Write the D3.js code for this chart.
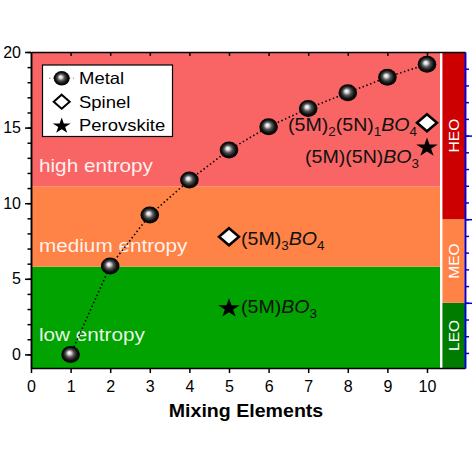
<!DOCTYPE html>
<html>
<head>
<meta charset="utf-8">
<script src="https://cdn.jsdelivr.net/npm/d3@7"></script>
<style>
  body { margin: 0; background: #fff; }
  text { font-family: "Liberation Sans", Arial, Helvetica, sans-serif; }
</style>
</head>
<body>
<script>
'use strict';

const W = 474;
const H = 474;
const SX = 1.12; // the source picture is a little stretched sideways

// data
const elements = [1, 2, 3, 4, 5, 6, 7, 8, 9, 10];
const metal = [0, 5.85, 9.22, 11.53, 13.52, 15.06, 16.27, 17.31, 18.33, 19.19];
const spinelX = [5, 10];
const spinelY = [7.78, 15.32];
const perovX = [5, 10];
const perovY = [3.11, 13.74];
const xTicks = [0, 1, 2, 3, 4, 5, 6, 7, 8, 9, 10];
const yTicks = [0, 5, 10, 15, 20];
const bandNames = ['low entropy', 'medium entropy', 'high entropy'];
const bandLimits = [-0.9, 5.8, 11.1, 20];
const bandColors = ['#00a300', '#ff8247', '#f96565'];
const classNames = ['LEO', 'MEO', 'HEO'];
const classLimits = [0.61, 1.0, 1.5, 2.5];
const classColors = ['#007c00', '#ff8247', '#cc0000'];

const svg = d3.select('body').append('svg').attr('width', W).attr('height', H);

const x = d3.scaleLinear().domain([0, 10.96]).range([31, 465]);
const y = d3.scaleLinear().domain([-0.9, 20]).range([368, 52]);
const yR = d3.scaleLinear().domain([0.61, 2.5]).range([368, 52]);

// stretched text helper
function stext(g, px, py, size) {
  return g.append('text')
    .attr('transform', `translate(${px},${py}) scale(${SX},1)`)
    .attr('font-size', size);
}

// background bands
svg.selectAll('rect.band')
  .data(bandNames)
  .enter()
  .append('rect')
  .attr('class', 'band')
  .attr('x', x(0))
  .attr('width', x(10.33) - x(0))
  .attr('y', (d, i) => y(bandLimits[i + 1]))
  .attr('height', (d, i) => y(bandLimits[i]) - y(bandLimits[i + 1]))
  .attr('fill', (d, i) => bandColors[i]);

// white separator
svg.append('rect')
  .attr('x', x(10.33)).attr('y', y(20))
  .attr('width', x(10.39) - x(10.33)).attr('height', y(-0.9) - y(20))
  .attr('fill', '#fff');

// right column classes
svg.selectAll('rect.cls')
  .data(classNames)
  .enter()
  .append('rect')
  .attr('class', 'cls')
  .attr('x', x(10.39))
  .attr('width', x(10.96) - x(10.39))
  .attr('y', (d, i) => yR(classLimits[i + 1]))
  .attr('height', (d, i) => yR(classLimits[i]) - yR(classLimits[i + 1]))
  .attr('fill', (d, i) => classColors[i]);

svg.selectAll('text.cls')
  .data(classNames)
  .enter()
  .append('text')
  .attr('class', 'cls')
  .attr('transform', (d, i) => `translate(${(x(10.39) + x(10.96)) / 2},${(yR(classLimits[i]) + yR(classLimits[i + 1])) / 2}) rotate(-90)`)
  .attr('text-anchor', 'middle')
  .attr('dominant-baseline', 'central')
  .attr('font-size', 15.5)
  .attr('fill', '#fff')
  .text(d => d);

// band labels
const bandLabelY = [y(-0.9) - 27, y(5.8) - 15, y(11.1) - 15];
bandNames.forEach((name, i) => {
  stext(svg, x(0) + 8, bandLabelY[i], 18.5)
    .attr('fill', '#fff')
    .attr('fill-opacity', 0.92)
    .text(name);
});

// axes
const axisG = svg.append('g').attr('stroke-width', 1.5);

axisG.append('g')
  .attr('transform', `translate(0,${y(-0.9)})`)
  .call(d3.axisBottom(x).tickValues(xTicks).tickSize(5).tickSizeOuter(0).tickPadding(8))
  .call(g => g.selectAll('text').attr('font-size', 16).attr('fill', '#000'));

axisG.append('g')
  .attr('transform', `translate(0,${y(20)})`)
  .call(d3.axisTop(x).tickValues(xTicks.slice(1)).tickSize(-4).tickSizeOuter(0).tickFormat(''));

axisG.append('g')
  .attr('transform', `translate(${x(0)},0)`)
  .call(d3.axisLeft(y).tickValues(d3.range(0, 21)).tickSize(3.5).tickSizeOuter(0).tickFormat(''));

axisG.append('g')
  .attr('transform', `translate(${x(0)},0)`)
  .call(d3.axisLeft(y).tickValues(yTicks).tickSize(6).tickSizeOuter(0).tickPadding(4))
  .call(g => g.selectAll('text').attr('font-size', 16).attr('fill', '#000'));

const blue = '#0000dd';
axisG.append('g')
  .attr('transform', `translate(${x(10.96)},0)`)
  .call(d3.axisRight(yR).tickValues(d3.range(7, 25).map(v => v / 10)).tickSize(4).tickSizeOuter(0).tickFormat(''))
  .call(g => g.selectAll('path,line').attr('stroke', blue));

axisG.append('g')
  .attr('transform', `translate(${x(10.96)},0)`)
  .call(d3.axisRight(yR).tickValues([1, 1.5, 2]).tickSize(7).tickSizeOuter(0).tickFormat(''))
  .call(g => g.selectAll('path,line').attr('stroke', blue));

// x title
stext(svg, 246, 417, 17.5)
  .attr('text-anchor', 'middle')
  .attr('font-weight', 'bold')
  .text('Mixing Elements');

// sphere gradient
const grad = svg.append('defs').append('radialGradient')
  .attr('id', 'ball').attr('cx', '50%').attr('cy', '50%').attr('r', '50%')
  .attr('fx', '42%').attr('fy', '40%');
[[0, '#ffffff'], [0.18, '#dddddd'], [0.45, '#555555'], [0.75, '#111111'], [1, '#000000']]
  .forEach(s => grad.append('stop').attr('offset', s[0]).attr('stop-color', s[1]));

// metal line and spheres
const line = d3.line().x((d, i) => x(elements[i])).y(d => y(d));
svg.append('path')
  .datum(metal)
  .attr('d', line)
  .attr('fill', 'none')
  .attr('stroke', '#000')
  .attr('stroke-width', 1.6)
  .attr('stroke-dasharray', '1.5 2.5');

svg.selectAll('ellipse.metal')
  .data(metal)
  .enter()
  .append('ellipse')
  .attr('class', 'metal')
  .attr('cx', (d, i) => x(elements[i]))
  .attr('cy', d => y(d))
  .attr('rx', 9.3)
  .attr('ry', 8.5)
  .attr('fill', 'url(#ball)');

// spinel diamonds
const diamond = 'M0,-8.5L10,0L0,8.5L-10,0Z';
svg.selectAll('path.spinel')
  .data(spinelY)
  .enter()
  .append('path')
  .attr('class', 'spinel')
  .attr('d', diamond)
  .attr('transform', (d, i) => `translate(${x(spinelX[i])},${y(d)})`)
  .attr('fill', '#fff')
  .attr('stroke', '#000')
  .attr('stroke-width', 2.5);

// perovskite stars
const star = d3.symbol().type(d3.symbolStar).size(115)();
svg.selectAll('path.perov')
  .data(perovY)
  .enter()
  .append('path')
  .attr('class', 'perov')
  .attr('d', star)
  .attr('transform', (d, i) => `translate(${x(perovX[i])},${y(d) + 1}) scale(${SX},1)`)
  .attr('fill', '#000');

// formula labels
function formula(px, py, parts) {
  const t = stext(svg, px, py, 17.5).attr('fill', '#111');
  let down = false;
  parts.forEach(p => {
    const ts = t.append('tspan').text(p[0]);
    if (p[1] === 'sub') {
      ts.attr('font-size', 12).attr('dy', down ? 0 : 5);
      down = true;
    } else {
      if (down) ts.attr('dy', -5);
      down = false;
      if (p[1] === 'it') ts.attr('font-style', 'italic');
    }
  });
}

formula(x(10) - 139, y(spinelY[1]) + 8.5,
  [['(5M)'], ['2', 'sub'], ['(5N)'], ['1', 'sub'], ['BO', 'it'], ['4', 'sub']]);
formula(x(10) - 122, y(perovY[1]) + 16,
  [['(5M)(5N)'], ['BO', 'it'], ['3', 'sub']]);
formula(x(5) + 12, y(spinelY[0]) + 8.5,
  [['(5M)'], ['3', 'sub'], ['BO', 'it'], ['4', 'sub']]);
formula(x(5) + 12, y(perovY[0]) + 6,
  [['(5M)'], ['BO', 'it'], ['3', 'sub']]);

// legend
const lg = svg.append('g');
lg.append('rect')
  .attr('x', 42.5).attr('y', 65)
  .attr('width', 130).attr('height', 71.5)
  .attr('fill', '#fff').attr('stroke', '#000').attr('stroke-width', 1.2);

const legY = [78.3, 101.7, 125];
lg.append('line')
  .attr('x1', 49).attr('x2', 74).attr('y1', legY[0]).attr('y2', legY[0])
  .attr('stroke', '#aaa').attr('stroke-width', 1.4).attr('stroke-dasharray', '1.5 2.5');
lg.append('ellipse')
  .attr('cx', 61.7).attr('cy', legY[0]).attr('rx', 8).attr('ry', 7.3)
  .attr('fill', 'url(#ball)');
lg.append('path')
  .attr('d', 'M0,-7L8,0L0,7L-8,0Z')
  .attr('transform', `translate(61.7,${legY[1]})`)
  .attr('fill', '#fff').attr('stroke', '#000').attr('stroke-width', 2);
lg.append('path')
  .attr('d', d3.symbol().type(d3.symbolStar).size(80)())
  .attr('transform', `translate(61.7,${legY[2] + 1}) scale(${SX},1)`)
  .attr('fill', '#000');

['Metal', 'Spinel', 'Perovskite'].forEach((name, i) => {
  stext(lg, 79, legY[i] + 6, 16.5).attr('fill', '#000').text(name);
});
</script>
</body>
</html>
